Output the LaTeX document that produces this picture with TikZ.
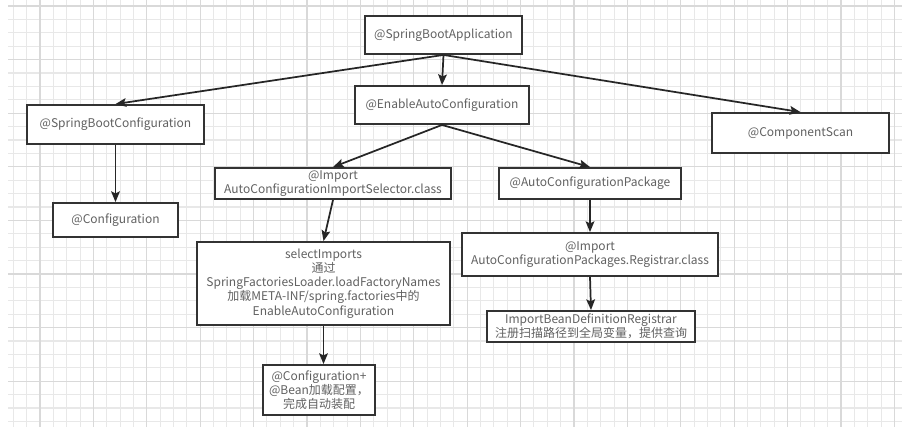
\documentclass[tikz,border=0pt]{standalone}
\usepackage{fontspec}
\newfontfamily\cjk{Noto Sans CJK SC}
\usetikzlibrary{arrows.meta}

\tikzset{
  box/.style={draw=black!80,line width=1.4pt,fill=white,text=black!62,
    font=\cjk\fontsize{9}{10.6}\selectfont,align=center,inner sep=0pt},
  link/.style={draw=black!85,line width=1.3pt,-{Stealth[length=8pt,width=6.5pt,inset=1.5pt]}}
}

\begin{document}
\begin{tikzpicture}[x=0.75pt,y=-0.75pt]
  \useasboundingbox (0,0) rectangle (904,447);
  \fill[white] (0,0) rectangle (904,447);
  % 背景の方眼
  \foreach \i in {-2,...,64} \draw[black!9,line width=0.8pt] ({40+13.35*\i},0) -- ({40+13.35*\i},427);
  \foreach \i in {0,...,31} \draw[black!9,line width=0.8pt] (8,{6+13.4*\i}) -- (902,{6+13.4*\i});
  \foreach \i in {-1,...,16} \draw[black!15,line width=1pt] ({40+53.4*\i},0) -- ({40+53.4*\i},427);
  \foreach \i in {0,...,7} \draw[black!15,line width=1pt] (8,{6+53.6*\i}) -- (902,{6+53.6*\i});

  % 注解のボックス
  \node[box,minimum width=157*0.75pt,minimum height=38*0.75pt] (app) at (443.5,35) {@SpringBootApplication};
  \node[box,minimum width=174*0.75pt,minimum height=38*0.75pt] (enable) at (442,105) {@EnableAutoConfiguration};
  \node[box,minimum width=177*0.75pt,minimum height=39*0.75pt] (sbconf) at (115.5,124.5) {@SpringBootConfiguration};
  \node[box,minimum width=125*0.75pt,minimum height=34*0.75pt] (conf) at (115.5,220) {@Configuration};
  \node[box,minimum width=177*0.75pt,minimum height=40*0.75pt] (scan) at (800.5,133) {@ComponentScan};
  \node[box,minimum width=236*0.75pt,minimum height=31*0.75pt] (selector) at (333,183.5) {@Import\\AutoConfigurationImportSelector.class};
  \node[box,minimum width=182*0.75pt,minimum height=31*0.75pt] (pkg) at (590,183.5) {@AutoConfigurationPackage};
  \node[box,minimum width=253*0.75pt,minimum height=83*0.75pt] (select) at (323.5,283.5) {selectImports\\通过\\SpringFactoriesLoader.loadFactoryNames\\加载META-INF/spring.factories中的\\EnableAutoConfiguration};
  \node[box,minimum width=256*0.75pt,minimum height=43*0.75pt] (registrar) at (590,254.5) {@Import\\AutoConfigurationPackages.Registrar.class};
  \node[box,minimum width=208*0.75pt,minimum height=31*0.75pt] (beanreg) at (591,326.5) {ImportBeanDefinitionRegistrar\\注册扫描路径到全局变量，提供查询};
  \node[box,minimum width=112*0.75pt,minimum height=50*0.75pt] (cfgbean) at (319,390) {@Configuration+\\@Bean加载配置，\\完成自动装配};

  % 矢印
  \draw[link] (app.south) -- (sbconf.north);
  \draw[link] (app.south) -- (enable.north);
  \draw[link] (app.south) -- (scan.north);
  \draw[link] (sbconf.south) -- (conf.north);
  \draw[link] (enable.south) -- (selector.north);
  \draw[link] (enable.south) -- (pkg.north);
  \draw[link] (selector.south) -- (select.north);
  \draw[link] (select.south) -- (select.south |- cfgbean.north);
  \draw[link] (pkg.south) -- (registrar.north);
  \draw[link] (registrar.south) -- (beanreg.north);
\end{tikzpicture}
\end{document}
